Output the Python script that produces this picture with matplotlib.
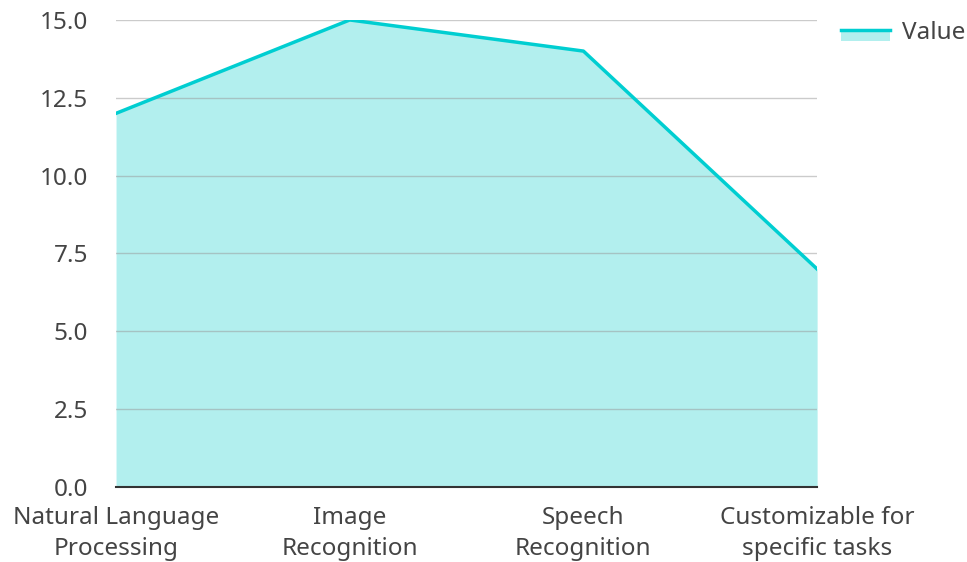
import matplotlib.pyplot as plt
from matplotlib.lines import Line2D
from matplotlib.patches import Patch, Rectangle
from matplotlib.legend_handler import HandlerBase

categories = ['Natural Language\nProcessing', 'Image\nRecognition',
              'Speech\nRecognition', 'Customizable for\nspecific tasks']
values = [12, 15, 14, 7]
y_ticks = [0, 2.5, 5, 7.5, 10, 12.5, 15]

line_color = '#00CED1'
fill_color = '#B2EFEE'
text_color = '#444444'


class AreaHandler(HandlerBase):
    # line on top, filled patch just under it
    def create_artists(self, legend, orig_handle, xdescent, ydescent,
                       width, height, fontsize, trans):
        rect = Rectangle((-xdescent, -ydescent - height * 0.1), width, height * 0.6,
                         facecolor=fill_color, edgecolor='none', transform=trans)
        line = Line2D([-xdescent, -xdescent + width],
                      [-ydescent + height * 0.53] * 2,
                      color=line_color, linewidth=2.5, transform=trans)
        return [rect, line]


plt.rcParams['font.family'] = ['Noto Sans', 'DejaVu Sans']

fig = plt.figure(figsize=(9.67, 5.62), dpi=100)
ax = fig.add_axes([0.120, 0.1335, 0.725, 0.831])

x = range(len(categories))
ax.fill_between(x, values, 0, color=fill_color, linewidth=0, zorder=1)
ax.plot(x, values, color=line_color, linewidth=2.5, zorder=3)

ax.set_xlim(0, len(categories) - 1)
ax.set_ylim(0, 15)
ax.set_yticks(y_ticks)
ax.set_yticklabels([f'{t:.1f}' for t in y_ticks])
ax.set_xticks(list(x))
ax.set_xticklabels(categories, linespacing=1.38)

ax.grid(axis='y', color='#999999', alpha=0.5, linewidth=1, zorder=2)
for s in ['top', 'right', 'left']:
    ax.spines[s].set_visible(False)
ax.spines['bottom'].set_color('#333333')
ax.spines['bottom'].set_linewidth(1.5)
ax.spines['bottom'].set_zorder(4)
ax.tick_params(axis='both', length=0, labelsize=17.5, colors=text_color)
ax.tick_params(axis='y', pad=20)
ax.tick_params(axis='x', pad=13.5)

fig.legend([Patch()], ['Value'], handler_map={Patch: AreaHandler()},
           loc='upper left', bbox_to_anchor=(841 / 967, 0.962),
           frameon=False, fontsize=17.5, labelcolor=text_color,
           borderpad=0, borderaxespad=0,
           handlelength=2.0, handletextpad=0.5)

fig.savefig('out.png', dpi=100)
